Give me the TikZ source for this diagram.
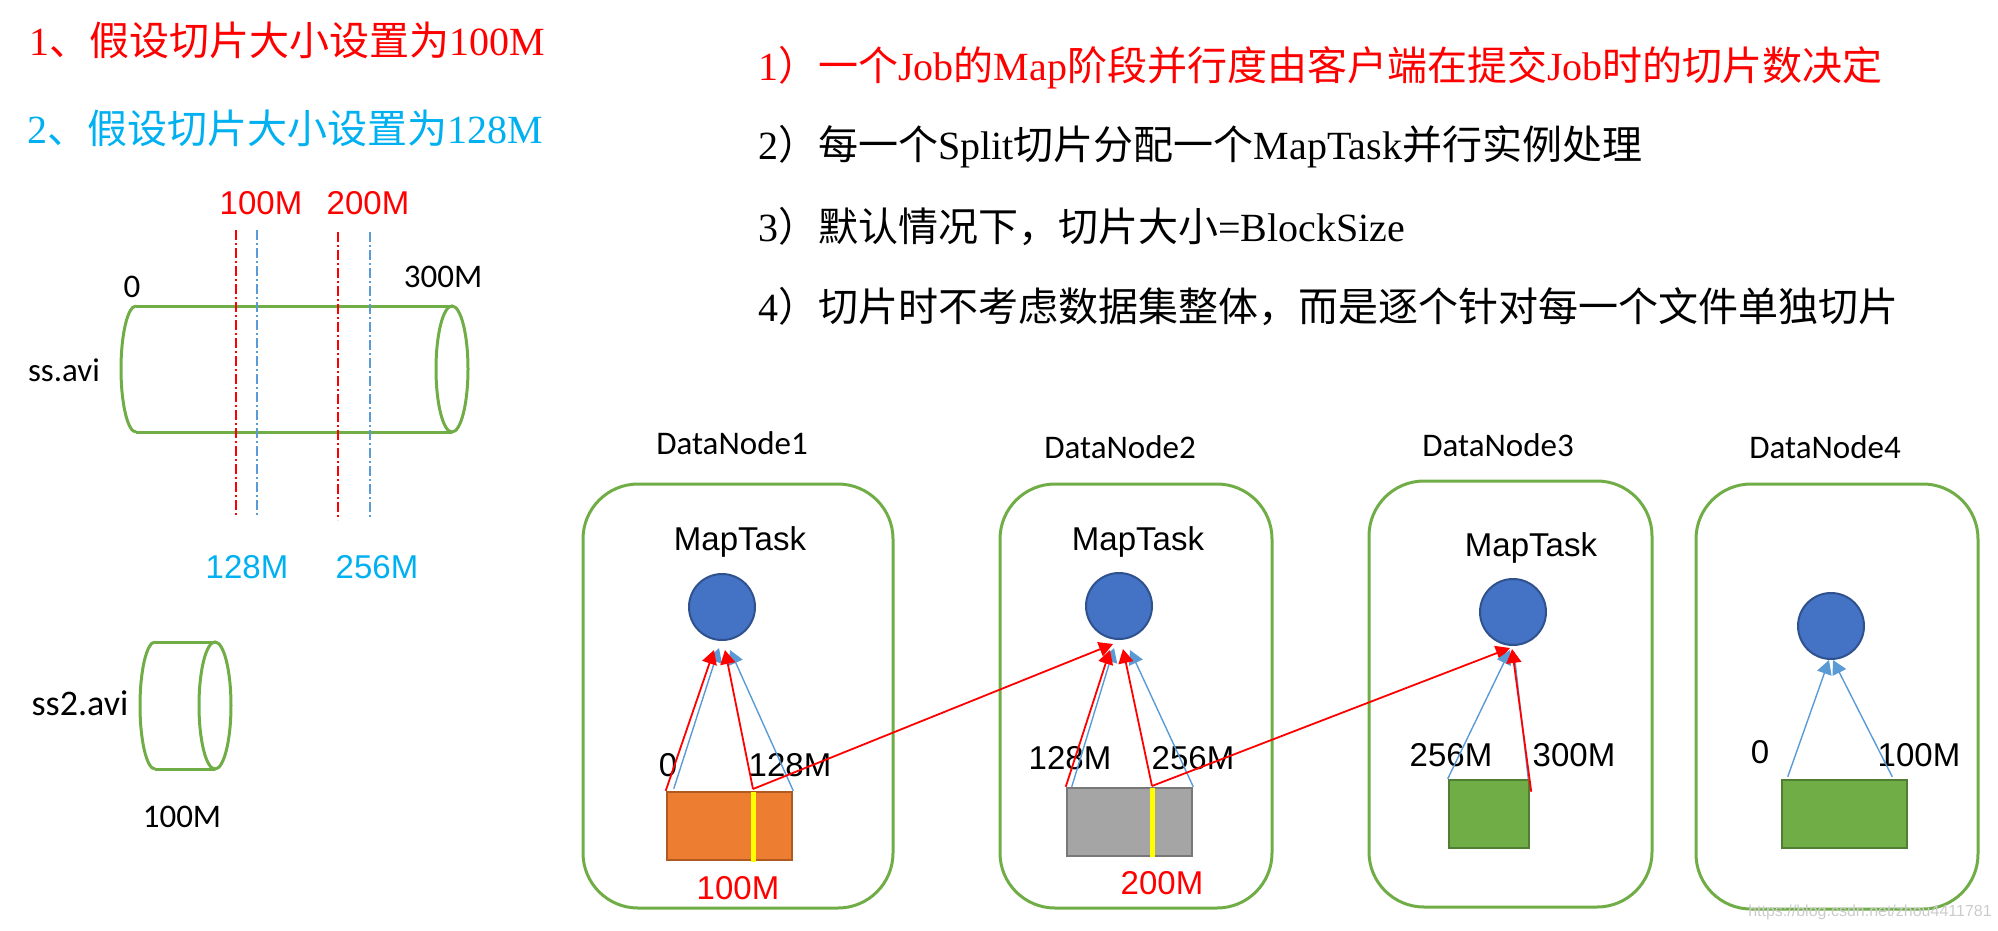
\documentclass[tikz,border=0pt]{standalone}
\usepackage{fontspec}
\setmainfont{Liberation Serif}
\newfontfamily\cjk{Noto Sans CJK SC}
\newfontfamily\arialf{Liberation Sans}
\newfontfamily\calf{Carlito}
\usetikzlibrary{arrows.meta,calc}
\newcommand\zh[1]{{\cjk #1}}
\definecolor{pred}{RGB}{255,0,0}
\definecolor{pblue}{RGB}{0,176,240}
\definecolor{pgreen}{RGB}{112,173,71}
\definecolor{cfill}{RGB}{68,114,196}
\definecolor{cdraw}{RGB}{47,82,143}
\definecolor{aorange}{RGB}{237,125,49}
\definecolor{aorangeb}{RGB}{174,90,33}
\definecolor{agray}{RGB}{165,165,165}
\definecolor{agrayb}{RGB}{120,120,120}
\definecolor{agreenb}{RGB}{80,126,50}
\definecolor{ablue}{RGB}{91,155,213}
\definecolor{pyellow}{RGB}{255,255,0}
\begin{document}
\begin{tikzpicture}[x=1pt,y=-1pt,
  title/.style={inner sep=0, anchor=west, font=\fontsize{40}{48}\selectfont},
  rtext/.style={inner sep=0, anchor=west, font=\fontsize{40}{48}\selectfont},
  lab/.style={inner sep=0, font=\arialf\fontsize{33}{40}\selectfont},
  cal/.style={inner sep=0, font=\calf\fontsize{33}{40}\selectfont},
  mtask/.style={inner sep=0, font=\arialf\fontsize{33}{40}\selectfont},
  dnbox/.style={draw=pgreen, line width=3pt, rounded corners=55pt, inner sep=0},
  mcirc/.style={circle, fill=cfill, draw=cdraw, line width=2pt, minimum size=66pt, inner sep=0},
  blk/.style={line width=2.5pt, inner sep=0, minimum height=68pt},
  cyl/.style={draw=pgreen, line width=3pt},
  rdd/.style={draw=pred, line width=1.6pt, dash pattern=on 10pt off 3pt on 2pt off 3pt},
  bdd/.style={draw=ablue, line width=1.4pt, dash pattern=on 10pt off 3pt on 2pt off 3pt},
  redarr/.style={draw=pred, line width=1.8pt, -{Triangle[length=14pt,width=15pt]}, pred},
  bluearr/.style={draw=ablue, line width=1.4pt, -{Triangle[length=14pt,width=15pt]}, ablue},
  blueline/.style={draw=ablue, line width=1.4pt},
  yel/.style={draw=pyellow, line width=5pt}
]
\useasboundingbox (0,0) rectangle (1998,930);

% ---- titles ----
\node[title, text=pred] (t1) at (29,40) {1\zh{、假设切片大小设置为}100M};
\node[title, text=pblue] (t2) at (27,128) {2\zh{、假设切片大小设置为}128M};

% ---- right text ----
\node[rtext, text=pred] (l1) at (758,68) {1\zh{）一个}Job\zh{的}Map\zh{阶段并行度由客户端在提交}Job\zh{时的切片数决定}};
\node[rtext] (l2) at (758,147) {2\zh{）每一个}Split\zh{切片分配一个}MapTask\zh{并行实例处理}};
\node[rtext] (l3) at (758,227) {3\zh{）默认情况下，切片大小}=BlockSize};
\node[rtext] (l4) at (758,307) {4\zh{）切片时不考虑数据集整体，而是逐个针对每一个文件单独切片}};

% ---- ss.avi cylinder ----
\draw[cyl] (136,306) -- (452,306) (136,432) -- (452,432);
\draw[cyl] (136,306) arc[start angle=270, end angle=90, x radius=15, y radius=63];
\draw[cyl] (452,369) ellipse[x radius=16, y radius=63];
\node[cal] (z0) at (132,287) {0};
\node[cal] (z300) at (443,277) {300M};
\node[cal] (ss) at (64,370) {ss.avi};
\node[lab, text=pred] (r100) at (261,203) {100M};
\node[lab, text=pred] (r200) at (368,203) {200M};
\node[lab, text=pblue] (b128) at (247,567) {128M};
\node[lab, text=pblue] (b256) at (377,567) {256M};
\draw[rdd] (236,230) -- (236,517);
\draw[bdd] (257,230) -- (257,517);
\draw[rdd] (338,232) -- (338,520);
\draw[bdd] (370,232) -- (370,518);

% ---- ss2.avi cylinder ----
\draw[cyl] (155,642) -- (215,642) (155,769) -- (215,769);
\draw[cyl] (155,642) arc[start angle=270, end angle=90, x radius=15, y radius=63.5];
\draw[cyl] (215,705.5) ellipse[x radius=16, y radius=63.5];
\node[cal, font=\calf\fontsize{36}{42}\selectfont] (ss2) at (80,703) {ss2.avi};
\node[cal] (s2size) at (182,817) {100M};

% ---- DataNode boxes ----
\node[dnbox, minimum width=310pt, minimum height=424pt] (d1) at (738,696) {};
\node[dnbox, minimum width=272pt, minimum height=424pt] (d2) at (1136,696) {};
\node[dnbox, minimum width=283pt, minimum height=426pt] (d3) at (1510.5,694) {};
\node[dnbox, minimum width=282pt, minimum height=425pt] (d4) at (1837,696.5) {};
\node[cal] (dl1) at (732,443) {DataNode1};
\node[cal] (dl2) at (1120,447) {DataNode2};
\node[cal] (dl3) at (1498,445) {DataNode3};
\node[cal] (dl4) at (1825,447) {DataNode4};
\node[mtask] (m1) at (740,542) {MapTask};
\node[mtask] (m2) at (1138,542) {MapTask};
\node[mtask] (m3) at (1531,548) {MapTask};

% ---- MapTask circles ----
\node[mcirc] (c1) at (722,607) {};
\node[mcirc] (c2) at (1119,606) {};
\node[mcirc] (c3) at (1513,612) {};
\node[mcirc] (c4) at (1831,626) {};

% ---- blocks ----
\node[blk, fill=aorange, draw=aorangeb, minimum width=125pt] (r1) at (729.5,826) {};
\node[blk, fill=agray, draw=agrayb, minimum width=125pt] (r2) at (1129.5,822) {};
\node[blk, fill=pgreen, draw=agreenb, minimum width=80pt] (r3) at (1489,814) {};
\node[blk, fill=pgreen, draw=agreenb, minimum width=125pt] (r4) at (1844.5,814) {};
\draw[yel] (753,792) -- (753,862);
\draw[yel] (1152,788) -- (1152,857);
\coordinate (s1) at (753,789);
\coordinate (s2) at (1152,786);

% ---- block labels ----
\node[lab] (a0) at (668,765) {0};
\node[lab] (a128) at (790,765) {128M};
\node[lab, text=pred] (a100) at (738,888) {100M};
\node[lab] (b128b) at (1070,758) {128M};
\node[lab] (b256b) at (1193,758) {256M};
\node[lab, text=pred] (b200) at (1162,883) {200M};
\node[lab] (c256) at (1451,755) {256M};
\node[lab] (c300) at (1574,755) {300M};
\node[lab] (e0) at (1760,752) {0};
\node[lab] (e100) at (1919,755) {100M};

% ---- arrows DataNode1 ----
\draw[bluearr] ($(r1.north west)+(8,-2)$) -- ($(c1)+(-3,41)$);
\draw[bluearr] (r1.north east) -- ($(c1)+(8,43)$);
\draw[redarr] (r1.north west) -- ($(c1)+(-8,43)$);
\draw[redarr] (s1) -- ($(c1)+(3,43)$);
\draw[redarr] (s1) -- ($(c2)+(-6,38)$);

% ---- arrows DataNode2 ----
\draw[bluearr] ($(r2.north west)+(6,0)$) -- ($(c2)+(-5,42)$);
\draw[bluearr] (r2.north east) -- ($(c2)+(11,44)$);
\draw[redarr] (r2.north west) -- ($(c2)+(-9,44)$);
\draw[redarr] (s2) -- ($(c2)+(4,43)$);
\draw[redarr] (s2) -- ($(c3)+(-3,36)$);

% ---- arrows DataNode3 ----
\draw[bluearr] (r3.north west) -- ($(c3)+(-3,38)$);
\draw[blueline] ($(r3.north east)+(-2,0)$) -- ($(c3)+(1,40)$);
\draw[redarr] ($(r3.north east)+(1,13)$) -- ($(c3)+(-1,37)$);

% ---- arrows DataNode4 ----
\draw[bluearr] ($(r4.north west)+(7,-2)$) -- ($(c4)+(-2,34)$);
\draw[bluearr] ($(r4.north east)+(-16,-2)$) -- ($(c4)+(2,34)$);

% ---- watermark ----
\node[inner sep=0, font=\arialf\fontsize{16}{18}\selectfont, text=gray!40] (wm) at (1870,912) {https://blog.csdn.net/zhou4411781};
\end{tikzpicture}
\end{document}
